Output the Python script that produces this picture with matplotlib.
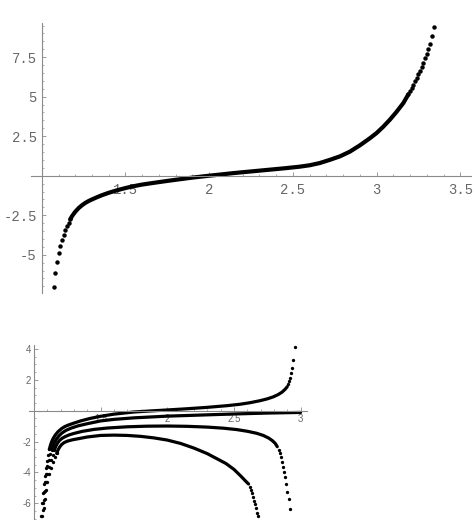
import numpy as np
import matplotlib.pyplot as plt
from matplotlib.ticker import MultipleLocator, FixedLocator

# ---- top plot data ----
top_dot_left_x = [1.07, 1.08, 1.09, 1.10, 1.11, 1.12, 1.13, 1.14, 1.15, 1.16, 1.17]
top_dot_left_y = [-7.03, -6.18, -5.48, -4.91, -4.45, -4.05, -3.73, -3.44, -3.18, -2.97, -2.76]
top_line_x = [1.17, 1.18, 1.19, 1.20, 1.22, 1.24, 1.26, 1.28, 1.30, 1.33, 1.36, 1.40,
              1.45, 1.50, 1.55, 1.60, 1.67, 1.75, 1.82, 1.90, 2.00, 2.08, 2.15, 2.25,
              2.35, 2.45, 2.54, 2.60, 2.66, 2.72, 2.78, 2.84, 2.90, 2.96, 3.00, 3.04,
              3.08, 3.12, 3.16, 3.19]
top_line_y = [-2.76, -2.57, -2.42, -2.28, -2.05, -1.87, -1.72, -1.60, -1.50, -1.36, -1.23, -1.08,
              -0.92, -0.78, -0.66, -0.56, -0.45, -0.33, -0.23, -0.12, 0.00, 0.09, 0.17, 0.27,
              0.37, 0.47, 0.57, 0.66, 0.80, 1.00, 1.22, 1.52, 1.92, 2.37, 2.70, 3.10,
              3.55, 4.05, 4.60, 5.15]
top_dot_right_x = [3.19, 3.20, 3.21, 3.22, 3.23, 3.24, 3.25, 3.26, 3.27, 3.28,
                   3.29, 3.30, 3.31, 3.32, 3.33, 3.34]
top_dot_right_y = [5.15, 5.35, 5.55, 5.75, 5.96, 6.18, 6.41, 6.65, 6.90, 7.16,
                   7.43, 7.72, 8.03, 8.36, 8.85, 9.43]

# ---- bottom plot data: four curves A (top) .. D (bottom) ----
a_dot_left_x = [1.056, 1.061, 1.066, 1.072, 1.079, 1.087, 1.096, 1.105, 1.115]
a_dot_left_y = [-6.8, -6.0, -5.35, -4.75, -4.2, -3.7, -3.25, -2.85, -2.5]
a_line_x = [1.115, 1.123, 1.132, 1.145, 1.16, 1.18, 1.205, 1.23, 1.26, 1.30, 1.35, 1.42, 1.5,
            1.6, 1.75, 1.9, 2.0, 2.15, 2.3, 2.45, 2.545, 2.62, 2.695, 2.75, 2.795,
            2.83, 2.86, 2.885, 2.90]
a_line_y = [-2.5, -2.25, -2.02, -1.78, -1.57, -1.36, -1.17, -1.03, -0.92, -0.8, -0.66, -0.5, -0.36,
            -0.22, -0.08, 0.0, 0.05, 0.13, 0.22, 0.33, 0.42, 0.52, 0.65, 0.77, 0.9,
            1.04, 1.2, 1.4, 1.56]
a_dot_right_x = [2.908, 2.915, 2.923, 2.930, 2.938, 2.945, 2.958]
a_dot_right_y = [1.71, 1.92, 2.14, 2.42, 2.75, 3.29, 4.11]

b_dot_left_x = [1.060, 1.066, 1.073, 1.081, 1.09, 1.10, 1.111, 1.122, 1.134]
b_dot_left_y = [-6.8, -5.95, -5.25, -4.62, -4.07, -3.6, -3.18, -2.83, -2.52]
b_line_x = [1.134, 1.143, 1.153, 1.168, 1.188, 1.21, 1.24, 1.28, 1.33, 1.4, 1.5, 1.6,
            1.75, 2.0, 2.25, 2.5, 2.75, 3.0]
b_line_y = [-2.52, -2.28, -2.07, -1.84, -1.62, -1.44, -1.27, -1.12, -0.98, -0.84, -0.66, -0.56,
            -0.46, -0.35, -0.28, -0.21, -0.15, -0.11]

c_dot_left_x = [1.067, 1.074, 1.082, 1.091, 1.101, 1.113, 1.126, 1.14, 1.153]
c_dot_left_y = [-6.4, -5.8, -5.2, -4.62, -4.1, -3.62, -3.2, -2.85, -2.55]
c_line_x = [1.153, 1.163, 1.176, 1.192, 1.21, 1.235, 1.265, 1.3, 1.36, 1.45, 1.55, 1.7,
            1.85, 2.0, 2.15, 2.3, 2.42, 2.52, 2.6, 2.67, 2.72, 2.76, 2.79, 2.81, 2.825]
c_line_y = [-2.55, -2.32, -2.1, -1.92, -1.79, -1.67, -1.56, -1.47, -1.34, -1.21, -1.12, -1.04,
            -1.0, -0.99, -1.01, -1.06, -1.13, -1.22, -1.33, -1.46, -1.6, -1.77, -1.95, -2.12, -2.33]
c_dot_right_x = [2.835, 2.843, 2.85, 2.858, 2.865, 2.873, 2.883, 2.89, 2.90, 2.91, 2.92]
c_dot_right_y = [-2.55, -2.76, -3.02, -3.30, -3.63, -3.95, -4.32, -4.75, -5.25, -5.74, -6.39]

d_dot_left_x = [1.072, 1.08, 1.09, 1.101, 1.113, 1.126, 1.14, 1.155, 1.17]
d_dot_left_y = [-6.3, -5.7, -5.12, -4.6, -4.12, -3.7, -3.33, -3.02, -2.76]
d_line_x = [1.17, 1.18, 1.192, 1.206, 1.225, 1.25, 1.29, 1.34, 1.4, 1.5, 1.6, 1.7,
            1.8, 1.9, 2.0, 2.1, 2.2, 2.3, 2.37, 2.44, 2.5, 2.55, 2.59, 2.61]
d_line_y = [-2.76, -2.55, -2.36, -2.2, -2.07, -1.97, -1.88, -1.8, -1.7, -1.6, -1.58, -1.6,
            -1.66, -1.76, -1.9, -2.12, -2.42, -2.78, -3.1, -3.42, -3.8, -4.22, -4.58, -4.75]
d_dot_right_x = [2.62, 2.63, 2.638, 2.645, 2.653, 2.66, 2.668, 2.675, 2.683]
d_dot_right_y = [-4.93, -5.14, -5.35, -5.57, -5.83, -6.07, -6.33, -6.61, -6.83]

top_xticks = [1.5, 2, 2.5, 3, 3.5]
top_xlabels = ['1.5', '2', '2.5', '3', '3.5']
top_yticks = [-5, -2.5, 2.5, 5, 7.5]
top_ylabels = ['-5', '-2.5', '2.5', '5', '7.5']
bot_xticks = [1.5, 2, 2.5, 3]
bot_xlabels = ['1.5', '2', '2.5', '3']
bot_yticks = [-6, -4, -2, 2, 4]
bot_ylabels = ['-6', '-4', '-2', '2', '4']

AX_COL = '#8a8a8a'
TXT_COL = '#666666'


def style_axes(ax, xmin_step, ymin_step, font, size, xpad, ypad):
    for s in ['top', 'right']:
        ax.spines[s].set_visible(False)
    ax.spines['left'].set_position(('data', 1))
    ax.spines['bottom'].set_position(('data', 0))
    for s in ['left', 'bottom']:
        ax.spines[s].set_color(AX_COL)
        ax.spines[s].set_linewidth(0.8)
    ax.xaxis.set_minor_locator(MultipleLocator(xmin_step))
    ax.yaxis.set_minor_locator(MultipleLocator(ymin_step))
    ax.tick_params(which='major', direction='in', length=3, width=0.6, color=AX_COL,
                   labelcolor=TXT_COL, labelsize=size)
    ax.tick_params(which='minor', direction='in', length=1.6, width=0.5, color=AX_COL)
    ax.tick_params(axis='x', pad=xpad)
    ax.tick_params(axis='y', pad=ypad)
    for lab in ax.get_xticklabels() + ax.get_yticklabels():
        lab.set_family(font)


fig = plt.figure(figsize=(4.74, 5.2), dpi=100)

# top plot
ax1 = fig.add_axes([31 / 474, 1 - 293 / 520, 440 / 474, 270 / 520])
ax1.set_xlim(0.9355, 3.564)
ax1.set_ylim(-7.42, 9.66)
ax1.plot(top_line_x, top_line_y, '-', color='black', lw=3.0,
         solid_capstyle='round', solid_joinstyle='round')
ax1.plot(top_dot_left_x, top_dot_left_y, 'o', color='black', ms=3.2, mew=0)
ax1.plot(top_dot_right_x, top_dot_right_y, 'o', color='black', ms=3.2, mew=0)
ax1.xaxis.set_major_locator(FixedLocator(top_xticks))
ax1.set_xticklabels(top_xlabels)
ax1.yaxis.set_major_locator(FixedLocator(top_yticks))
ax1.set_yticklabels(top_ylabels)
style_axes(ax1, 0.1, 0.5, 'Liberation Mono', 10, 5, 3.5)

# bottom plot
ax2 = fig.add_axes([29 / 474, 0, 278 / 474, 175 / 520])
ax2.set_xlim(0.9625, 3.048)
ax2.set_ylim(-7.08, 4.26)
curves = [
    (a_dot_left_x, a_dot_left_y, a_line_x, a_line_y, a_dot_right_x, a_dot_right_y),
    (b_dot_left_x, b_dot_left_y, b_line_x, b_line_y, [], []),
    (c_dot_left_x, c_dot_left_y, c_line_x, c_line_y, c_dot_right_x, c_dot_right_y),
    (d_dot_left_x, d_dot_left_y, d_line_x, d_line_y, d_dot_right_x, d_dot_right_y),
]
for lx, ly, mx, my, rx, ry in curves:
    ax2.plot(mx, my, '-', color='black', lw=2.3,
             solid_capstyle='round', solid_joinstyle='round')
    ax2.plot(lx, ly, 'o', color='black', ms=2.4, mew=0)
    if rx:
        ax2.plot(rx, ry, 'o', color='black', ms=2.4, mew=0)
ax2.xaxis.set_major_locator(FixedLocator(bot_xticks))
ax2.set_xticklabels(bot_xlabels)
ax2.yaxis.set_major_locator(FixedLocator(bot_yticks))
ax2.set_yticklabels(bot_ylabels)
style_axes(ax2, 0.1, 0.5, 'Liberation Sans', 7, 2, 2)

fig.savefig('out.png', dpi=100)
